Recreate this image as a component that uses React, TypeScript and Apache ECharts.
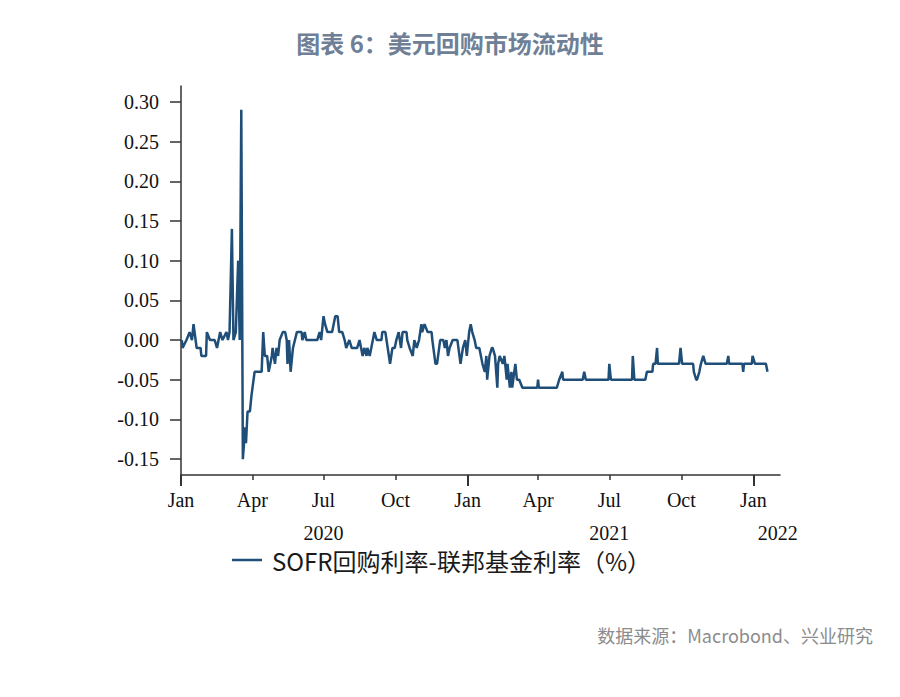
import React, { useEffect, useRef } from 'react';
import * as echarts from 'echarts';

// SOFR - EFFR spread (%)
const spreadPoints: [string, number][] = [
  ['2020-01-02', 0.00], ['2020-01-03', -0.01], ['2020-01-08', 0.00], ['2020-01-12', 0.01],
  ['2020-01-15', 0.00], ['2020-01-17', 0.02], ['2020-01-21', -0.01], ['2020-01-26', -0.01],
  ['2020-01-27', -0.02], ['2020-02-02', -0.02], ['2020-02-03', 0.01], ['2020-02-07', 0.00],
  ['2020-02-13', 0.00], ['2020-02-16', -0.01], ['2020-02-20', 0.01], ['2020-02-23', 0.00],
  ['2020-02-28', 0.01], ['2020-03-01', 0.00], ['2020-03-03', 0.01], ['2020-03-06', 0.14],
  ['2020-03-08', 0.00], ['2020-03-11', 0.01], ['2020-03-14', 0.10], ['2020-03-16', 0.00],
  ['2020-03-18', 0.29], ['2020-03-20', -0.15], ['2020-03-23', -0.11], ['2020-03-24', -0.13],
  ['2020-03-26', -0.09], ['2020-03-29', -0.09], ['2020-03-31', -0.07], ['2020-04-04', -0.04],
  ['2020-04-13', -0.04], ['2020-04-15', 0.01], ['2020-04-17', -0.02], ['2020-04-20', -0.02],
  ['2020-04-22', -0.04], ['2020-04-26', -0.02], ['2020-04-27', -0.01], ['2020-04-30', -0.03],
  ['2020-05-02', -0.01], ['2020-05-04', -0.02], ['2020-05-06', 0.00], ['2020-05-10', 0.01],
  ['2020-05-13', 0.01], ['2020-05-15', 0.00], ['2020-05-16', -0.03], ['2020-05-18', 0.00],
  ['2020-05-20', -0.04], ['2020-05-23', -0.01], ['2020-05-28', 0.01], ['2020-06-03', 0.01],
  ['2020-06-04', 0.00], ['2020-06-07', 0.01], ['2020-06-09', 0.00], ['2020-06-23', 0.00],
  ['2020-06-26', 0.01], ['2020-06-28', 0.00], ['2020-07-01', 0.03], ['2020-07-03', 0.02],
  ['2020-07-06', 0.01], ['2020-07-12', 0.01], ['2020-07-16', 0.03], ['2020-07-19', 0.03],
  ['2020-07-21', 0.01], ['2020-07-25', 0.01], ['2020-07-28', 0.00], ['2020-07-30', -0.01],
  ['2020-08-03', 0.00], ['2020-08-06', -0.01], ['2020-08-13', -0.01], ['2020-08-16', 0.00],
  ['2020-08-18', -0.01], ['2020-08-20', -0.02], ['2020-08-22', -0.01], ['2020-08-25', -0.02],
  ['2020-08-26', -0.01], ['2020-08-29', -0.02], ['2020-09-02', 0.00], ['2020-09-04', 0.01],
  ['2020-09-07', 0.00], ['2020-09-13', 0.00], ['2020-09-14', 0.01], ['2020-09-18', 0.01],
  ['2020-09-21', -0.01], ['2020-09-24', -0.03], ['2020-09-27', -0.01], ['2020-09-30', -0.01],
  ['2020-10-02', 0.00], ['2020-10-05', 0.01], ['2020-10-08', -0.01], ['2020-10-10', 0.01],
  ['2020-10-15', 0.01], ['2020-10-16', 0.00], ['2020-10-19', -0.01], ['2020-10-23', -0.02],
  ['2020-10-25', 0.00], ['2020-10-28', -0.01], ['2020-10-31', 0.00], ['2020-11-03', 0.02],
  ['2020-11-04', 0.01], ['2020-11-07', 0.02], ['2020-11-11', 0.01], ['2020-11-16', 0.01],
  ['2020-11-17', 0.00], ['2020-11-21', -0.03], ['2020-11-23', -0.03], ['2020-11-27', 0.00],
  ['2020-12-01', 0.00], ['2020-12-03', -0.01], ['2020-12-05', 0.00], ['2020-12-07', -0.02],
  ['2020-12-09', -0.01], ['2020-12-13', 0.00], ['2020-12-19', 0.00], ['2020-12-23', -0.03],
  ['2020-12-26', -0.01], ['2020-12-29', 0.00], ['2020-12-31', -0.02], ['2021-01-03', 0.01],
  ['2021-01-05', 0.02], ['2021-01-07', 0.01], ['2021-01-10', 0.00], ['2021-01-12', -0.01],
  ['2021-01-16', -0.01], ['2021-01-20', -0.03], ['2021-01-23', -0.04], ['2021-01-25', -0.02],
  ['2021-01-26', -0.05], ['2021-01-29', -0.02], ['2021-02-01', -0.01], ['2021-02-02', -0.01],
  ['2021-02-05', -0.02], ['2021-02-08', -0.06], ['2021-02-09', -0.03], ['2021-02-11', -0.02],
  ['2021-02-15', -0.03], ['2021-02-17', -0.02], ['2021-02-20', -0.05], ['2021-02-21', -0.03],
  ['2021-02-24', -0.06], ['2021-02-26', -0.04], ['2021-02-27', -0.06], ['2021-03-03', -0.03],
  ['2021-03-05', -0.05], ['2021-03-08', -0.05], ['2021-03-12', -0.06], ['2021-03-31', -0.06],
  ['2021-04-01', -0.05], ['2021-04-02', -0.06], ['2021-04-25', -0.06], ['2021-04-28', -0.05],
  ['2021-05-02', -0.04], ['2021-05-03', -0.05], ['2021-05-28', -0.05], ['2021-05-30', -0.04],
  ['2021-06-01', -0.05], ['2021-06-30', -0.05], ['2021-07-01', -0.03], ['2021-07-03', -0.05],
  ['2021-07-30', -0.05], ['2021-07-31', -0.02], ['2021-08-02', -0.05], ['2021-08-16', -0.05],
  ['2021-08-18', -0.04], ['2021-08-25', -0.04], ['2021-08-26', -0.03], ['2021-08-29', -0.03],
  ['2021-08-31', -0.01], ['2021-09-01', -0.03], ['2021-09-28', -0.03], ['2021-09-30', -0.01],
  ['2021-10-02', -0.03], ['2021-10-16', -0.03], ['2021-10-17', -0.04], ['2021-10-20', -0.05],
  ['2021-10-21', -0.05], ['2021-10-24', -0.04], ['2021-10-26', -0.03], ['2021-10-29', -0.02],
  ['2021-11-01', -0.03], ['2021-11-28', -0.03], ['2021-11-30', -0.02], ['2021-12-01', -0.03],
  ['2021-12-18', -0.03], ['2021-12-19', -0.04], ['2021-12-20', -0.03], ['2021-12-30', -0.03],
  ['2021-12-31', -0.02], ['2022-01-03', -0.03], ['2022-01-17', -0.03], ['2022-01-19', -0.04],
];

const seriesName = 'SOFR回购利率-联邦基金利率（%）';
const titleText = '图表 6：美元回购市场流动性';
const sourceText = '数据来源：Macrobond、兴业研究';

const xRange = ['2020-01-01', '2022-02-04'];
const quarterTicks = ['2020-01-01', '2020-04-01', '2020-07-01', '2020-10-01', '2021-01-01',
  '2021-04-01', '2021-07-01', '2021-10-01', '2022-01-01'];
const quarterLabels = ['Jan', 'Apr', 'Jul', 'Oct', 'Jan', 'Apr', 'Jul', 'Oct', 'Jan'];
const janTicks = ['2020-01-01', '2021-01-01', '2022-01-01'];
const yearTicks = ['2020-07-01', '2021-07-01', '2022-02-01'];
const yearLabels = ['2020', '2021', '2022'];
const yTicks = [-0.15, -0.10, -0.05, 0.00, 0.05, 0.10, 0.15, 0.20, 0.25, 0.30];
const yRange = [-0.17, 0.32];

const ts = (s: string) => new Date(s + 'T00:00:00').getTime();

export default function App() {
  const ref = useRef<HTMLDivElement>(null);
  useEffect(() => {
    if (!ref.current) return;
    const chart = echarts.init(ref.current, null, { renderer: 'svg' });
    const serif = 'Liberation Serif';
    const cjk = 'Noto Sans CJK SC';
    const qVals = quarterTicks.map(ts);
    const yVals = yearTicks.map(ts);
    const baseX = {
      type: 'value' as const,
      min: ts(xRange[0]),
      max: ts(xRange[1]),
      position: 'bottom' as const,
      gridIndex: 0,
      splitLine: { show: false },
    };
    chart.setOption({
      animation: false,
      backgroundColor: '#ffffff',
      title: [
        {
          text: titleText,
          left: 'center',
          top: 25,
          textStyle: { fontFamily: cjk, fontSize: 24, fontWeight: 'bold', color: '#6f8096' },
        },
        {
          text: sourceText,
          right: 22,
          top: 621,
          textStyle: { fontFamily: cjk, fontSize: 18, fontWeight: 'normal', color: '#8c8c8c' },
        },
      ],
      grid: { left: 181, right: 120, top: 86, bottom: 222, containLabel: false },
      legend: {
        left: 232,
        top: 548,
        padding: 0,
        icon: 'rect',
        itemWidth: 30,
        itemHeight: 2.5,
        data: [seriesName],
        textStyle: { fontFamily: cjk, fontSize: 24, color: '#1a1a1a', padding: [0, 0, 0, 5] },
      },
      xAxis: [
        {
          ...baseX,
          axisLine: { show: true, onZero: false, lineStyle: { color: '#333', width: 1.5 } },
          axisTick: { show: true, customValues: qVals, length: 5, lineStyle: { color: '#333', width: 1.5 } },
          axisLabel: {
            show: true,
            customValues: qVals,
            margin: 15,
            fontFamily: serif,
            fontSize: 20,
            color: '#111',
            hideOverlap: false,
            formatter: (v: number) => {
              const i = qVals.indexOf(v);
              return i >= 0 ? quarterLabels[i] : '';
            },
          },
        },
        {
          ...baseX,
          axisLine: { show: false, onZero: false },
          axisTick: { show: true, customValues: janTicks.map(ts), length: 11, lineStyle: { color: '#333', width: 2 } },
          axisLabel: { show: false },
        },
        {
          ...baseX,
          axisLine: { show: false, onZero: false },
          axisTick: { show: false },
          axisLabel: {
            show: true,
            customValues: yVals,
            margin: 48,
            fontFamily: serif,
            fontSize: 20,
            color: '#111',
            hideOverlap: false,
            formatter: (v: number) => {
              const i = yVals.indexOf(v);
              return i >= 0 ? yearLabels[i] : '';
            },
          },
        },
      ],
      yAxis: {
        type: 'value',
        min: yRange[0],
        max: yRange[1],
        splitLine: { show: false },
        axisLine: { show: true, onZero: false, lineStyle: { color: '#333', width: 1.5 } },
        axisTick: { show: true, customValues: yTicks, length: 11, lineStyle: { color: '#333', width: 1.5 } },
        axisLabel: {
          show: true,
          customValues: yTicks,
          margin: 22,
          fontFamily: serif,
          fontSize: 20,
          color: '#111',
          formatter: (v: number) => v.toFixed(2),
        },
      },
      series: [
        {
          name: seriesName,
          type: 'line',
          xAxisIndex: 0,
          data: spreadPoints.map(([d, v]) => [ts(d), v]),
          showSymbol: false,
          symbol: 'none',
          lineStyle: { color: '#1f4e79', width: 2.5 },
          itemStyle: { color: '#1f4e79' },
        },
      ],
    });
    return () => chart.dispose();
  }, []);
  return (
    <div
      ref={ref}
      style={{ position: 'fixed', left: 0, top: 0, width: 900, height: 697, background: '#fff' }}
    />
  );
}
